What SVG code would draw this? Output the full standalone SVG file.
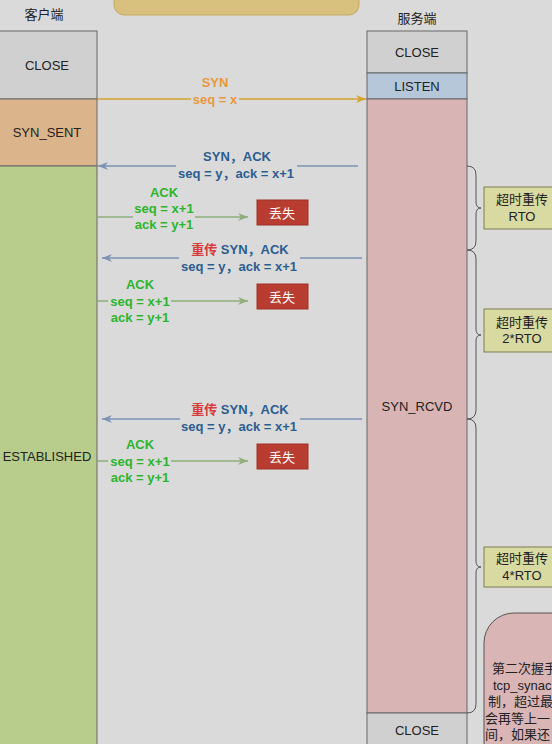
<svg xmlns="http://www.w3.org/2000/svg" width="552" height="744" viewBox="0 0 552 744">
<style>
.t{font-family:"Liberation Sans","Noto Sans CJK SC",sans-serif;font-size:13px;fill:#222;text-anchor:middle;dominant-baseline:central}
.b{font-family:"Liberation Sans","Noto Sans CJK SC",sans-serif;font-size:13px;font-weight:bold;text-anchor:middle;dominant-baseline:central}
.o{fill:#e8983c}.bl{fill:#2b5d90}.g{fill:#2cb52c}.r{fill:#d83b3b}
.col{stroke:#666;stroke-width:1}
.tm{fill:#d8daa2;stroke:#7d7d52;stroke-width:1}
.lost{fill:#b93c31;stroke:#9e3026;stroke-width:1}
.br{fill:none;stroke:#555;stroke-width:1}
.cn{fill:none;stroke-width:1.6}
.w{fill:#fff}
.s{font-family:"Liberation Sans","Noto Sans CJK SC",sans-serif;font-size:13px;fill:#222;dominant-baseline:central}
</style>
<defs>
<marker id="aO" viewBox="0 0 10 10" refX="10" refY="5" markerWidth="10" markerHeight="10" markerUnits="userSpaceOnUse" orient="auto"><path d="M0,1 L10,5 L0,9 L3,5 z" fill="#d4a32c"/></marker>
<marker id="aB" viewBox="0 0 10 10" refX="10" refY="5" markerWidth="10" markerHeight="10" markerUnits="userSpaceOnUse" orient="auto"><path d="M0,1 L10,5 L0,9 L3,5 z" fill="#7d93b6"/></marker>
<marker id="aG" viewBox="0 0 10 10" refX="10" refY="5" markerWidth="10" markerHeight="10" markerUnits="userSpaceOnUse" orient="auto"><path d="M0,1 L10,5 L0,9 L3,5 z" fill="#8fae7c"/></marker>
</defs>
<rect x="0" y="0" width="552" height="744" fill="#dadada"/>
<g id="title"><rect x="114" y="-20" width="245" height="35" rx="10" fill="#d8c07e" stroke="#c6aa60"/></g>
<g id="client-label"><text class="t" x="44" y="14">客户端</text></g>
<g id="server-label"><text class="t" x="417" y="18">服务端</text></g>
<g id="client-close"><rect class="col" x="-4" y="31" width="101" height="68" fill="#d0d0d0"/><text class="t" x="47" y="65">CLOSE</text></g>
<g id="client-synsent"><rect class="col" x="-4" y="99" width="101" height="67" fill="#dbb48c"/><text class="t" x="47" y="132">SYN_SENT</text></g>
<g id="client-established"><rect class="col" x="-4" y="166" width="101" height="590" fill="#b8cc8c"/><text class="t" x="47" y="456">ESTABLISHED</text></g>
<g id="server-close"><rect class="col" x="367" y="31" width="100" height="42" fill="#d0d0d0"/><text class="t" x="417" y="52">CLOSE</text></g>
<g id="server-listen"><rect class="col" x="367" y="73" width="100" height="26" fill="#b5c7d9"/><text class="t" x="417" y="86">LISTEN</text></g>
<g id="server-synrcvd"><rect class="col" x="367" y="99" width="100" height="614" fill="#d8b4b4"/><text class="t" x="417" y="406">SYN_RCVD</text></g>
<g id="server-close2"><rect class="col" x="367" y="713" width="100" height="40" fill="#d0d0d0"/><text class="t" x="417" y="730">CLOSE</text></g>
<g id="connectors">
<path class="cn" stroke="#d4a32c" d="M97,99 H191 M239,99 H366" marker-end="url(#aO)"/>
<path class="cn" stroke="#7d93b6" d="M358,166 H297 M176,166 H98" marker-end="url(#aB)"/>
<path class="cn" stroke="#8fae7c" d="M97,217 H133 M195,217 H248" marker-end="url(#aG)"/>
<path class="cn" stroke="#7d93b6" d="M362,258 H300 M179,258 H102" marker-end="url(#aB)"/>
<path class="cn" stroke="#8fae7c" d="M97,301 H108 M171,301 H248" marker-end="url(#aG)"/>
<path class="cn" stroke="#7d93b6" d="M362,419 H300 M180,419 H102" marker-end="url(#aB)"/>
<path class="cn" stroke="#8fae7c" d="M97,461 H108 M171,461 H248" marker-end="url(#aG)"/>
<path class="br" d="M467,166 Q476,166 476,175 L476,202 Q476,208 481,208 Q476,208 476,214 L476,241 Q476,250 467,250"/>
<path class="br" d="M467,250 Q476,250 476,259 L476,329 Q476,335 481,335 Q476,335 476,341 L476,410 Q476,419 467,419"/>
<path class="br" d="M467,419 Q476,419 476,428 L476,561 Q476,567 481,567 Q476,567 476,573 L476,704 Q476,713 467,713"/>
</g>
<g id="labels">
<text class="b o" x="215" y="82">SYN</text>
<text class="b o" x="215" y="99">seq = x</text>
<text class="b bl" x="237" y="156">SYN，ACK</text>
<text class="b bl" x="236" y="173">seq = y，ack = x+1</text>
<text class="b g" x="164" y="192">ACK</text>
<text class="b g" x="164" y="208">seq = x+1</text>
<text class="b g" x="164" y="224">ack = y+1</text>
<text class="b bl" x="240" y="249"><tspan class="r">重传</tspan> SYN，ACK</text>
<text class="b bl" x="239" y="266">seq = y，ack = x+1</text>
<text class="b g" x="140" y="284">ACK</text>
<text class="b g" x="140" y="301">seq = x+1</text>
<text class="b g" x="140" y="317">ack = y+1</text>
<text class="b bl" x="240" y="409"><tspan class="r">重传</tspan> SYN，ACK</text>
<text class="b bl" x="239" y="426">seq = y，ack = x+1</text>
<text class="b g" x="140" y="444">ACK</text>
<text class="b g" x="140" y="461">seq = x+1</text>
<text class="b g" x="140" y="477">ack = y+1</text>
</g>
<g id="lost1"><rect class="lost" x="257" y="200" width="51" height="25"/><text class="t w" x="282" y="213">丢失</text></g>
<g id="lost2"><rect class="lost" x="257" y="284" width="51" height="25"/><text class="t w" x="282" y="297">丢失</text></g>
<g id="lost3"><rect class="lost" x="257" y="444" width="51" height="25"/><text class="t w" x="282" y="457">丢失</text></g>
<g id="rto1"><rect class="tm" x="484" y="187" width="78" height="42"/><text class="t" x="522" y="199">超时重传</text><text class="t" x="522" y="216">RTO</text></g>
<g id="rto2"><rect class="tm" x="484" y="309" width="78" height="43"/><text class="t" x="522" y="322">超时重传</text><text class="t" x="522" y="338">2*RTO</text></g>
<g id="rto3"><rect class="tm" x="484" y="547" width="78" height="40"/><text class="t" x="522" y="558">超时重传</text><text class="t" x="522" y="575">4*RTO</text></g>
<g id="note"><rect x="484" y="613" width="120" height="160" rx="30" fill="#dab5b5" stroke="#555"/>
<text class="s" x="492" y="668">第二次握手</text>
<text class="s" x="493" y="685">tcp_synac</text>
<text class="s" x="488" y="701">制，超过最</text>
<text class="s" x="485" y="718">会再等上一</text>
<text class="s" x="485" y="734">间，如果还</text>
</g>
</svg>
